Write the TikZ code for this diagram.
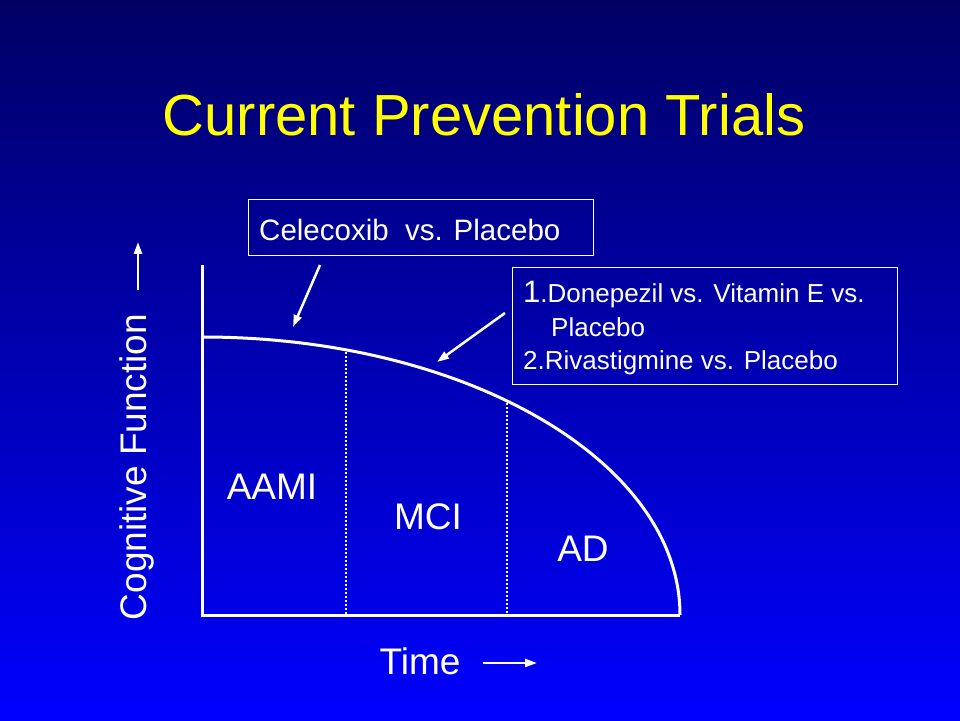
\documentclass[tikz,border=0pt]{standalone}
\usepackage{fontspec}
\setmainfont{Liberation Sans}
\usetikzlibrary{arrows.meta}
\definecolor{topblue}{RGB}{0,0,100}
\definecolor{botblue}{RGB}{0,0,255}
\definecolor{titleyellow}{RGB}{255,255,0}
\tikzset{
  axisline/.style={white, line width=3pt},
  boundary/.style={white, dotted, line width=2pt},
  pointer/.style={white, line width=2.5pt, -{Triangle[length=12pt,width=8pt]}},
  labelbox/.style={draw=white, line width=1pt},
  boxtext/.style={text=white, anchor=west, inner sep=0pt},
  stage/.style={text=white, font=\fontsize{37}{40}\selectfont}
}
\begin{document}
\begin{tikzpicture}[x=1pt,y=1pt]

        %Background
        \shade [top color=topblue, bottom color=botblue] (0,0) rectangle (960,720);
        \useasboundingbox (0,0) rectangle (960,720);

        %Title
        \node (title) [text=titleyellow, font=\fontsize{58}{64}\selectfont] at (484,605) {Current Prevention Trials};

        %Axes
        \coordinate (origin) at (202,105);
        \coordinate (ytop) at (202,455);
        \coordinate (xend) at (680,105);
        \draw [axisline] (ytop) -- (origin) -- (xend);

        %Curve
        \draw [axisline] (202,383) arc [start angle=90, end angle=0, x radius=478, y radius=278];

        %Stage boundaries
        \draw [boundary] (346,368) -- (346,105);
        \draw [boundary] (507,317) -- (507,105);

        %Stages
        \node (aami) [stage] at (272,233) {AAMI};
        \node (mci) [stage] at (428,203) {MCI};
        \node (ad) [stage] at (583,171) {AD};

        %Axis labels
        \node (cog) [stage, rotate=90] at (137,253) {Cognitive Function};
        \coordinate (cogtail) at (138,430);
        \coordinate (coghead) at (138,478);
        \draw [white, line width=2.5pt, -{Triangle[length=12pt,width=8pt]}] (cogtail) -- (coghead);
        \node (time) [stage] at (420,59) {Time};
        \coordinate (timetail) at (483,57);
        \coordinate (timehead) at (537,57);
        \draw [white, line width=2.5pt, -{Triangle[length=12pt,width=8pt]}] (timetail) -- (timehead);

        %Celecoxib box
        \draw [labelbox] (248,464) rectangle (593,520);
        \node (celeco) [boxtext, font=\fontsize{29.5}{32}\selectfont] at (259,490) {Celecoxib~ vs. Placebo};
        \coordinate (celtip) at (293,393);
        \draw [pointer] (320,455) -- (celtip);

        %Cholinesterase box
        \draw [labelbox] (512,335) rectangle (897,452);
        \node (trial1) [boxtext, font=\fontsize{26}{28}\selectfont] at (523,425) {{\fontsize{31}{33}\selectfont 1}.Donepezil vs. Vitamin E vs.};
        \node (trial1b) [boxtext, font=\fontsize{26}{28}\selectfont] at (551,393) {Placebo};
        \node (trial2) [boxtext, font=\fontsize{26}{28}\selectfont] at (523,357) {2.Rivastigmine vs. Placebo};
        \coordinate (tritip) at (437,358);
        \draw [pointer] (505,407) -- (tritip);

\end{tikzpicture}
\end{document}
